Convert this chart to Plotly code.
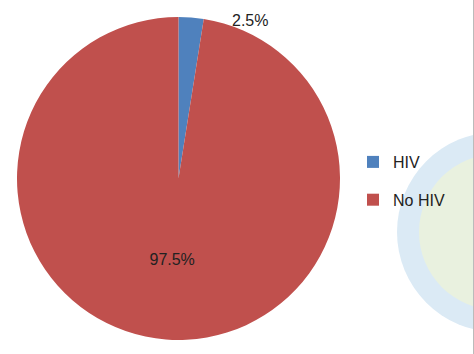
import plotly.graph_objects as go

labels = ["HIV", "No HIV"]
values = [2.5, 97.5]
colors = ["#4F81BD", "#C0504D"]

W, H = 474, 354
total = sum(values)
pct = [f"{v / total * 100:.1f}%" for v in values]

fig = go.Figure()
fig.add_trace(go.Pie(
    labels=labels, values=values, sort=False, direction="clockwise", rotation=0,
    marker=dict(colors=colors, line=dict(width=0)),
    text=["", pct[1]], textinfo="text",
    textposition="inside",
    insidetextorientation="horizontal",
    textfont=dict(family="Liberation Sans, Arial", size=16, color="#222222"),
    domain=dict(x=[17 / W, 340 / W], y=[(H - 340) / H, (H - 17) / H]),
    showlegend=False, hoverinfo="label+percent",
))

# legend entries (square swatches)
for lab, col in zip(labels, colors):
    fig.add_trace(go.Scatter(
        x=[None], y=[None], mode="markers", name=lab, legendgroup=lab,
        marker=dict(symbol="square", size=12, color=col),
    ))

# outside label for the small slice
fig.add_annotation(text=pct[0], xref="paper", yref="paper",
                   x=250 / W, y=(H - 21) / H, xanchor="center", yanchor="middle",
                   showarrow=False,
                   font=dict(family="Liberation Sans, Arial", size=16, color="#222222"))

# faded background circle at right edge (decorative)
fig.add_shape(type="circle", xref="paper", yref="paper",
              x0=(497 - 100) / W, x1=(497 + 100) / W,
              y0=(H - 332) / H, y1=(H - 132) / H,
              fillcolor="#dbeaf5", line=dict(width=0), layer="below")
fig.add_shape(type="circle", xref="paper", yref="paper",
              x0=(497 - 78) / W, x1=(497 + 78) / W,
              y0=(H - 310) / H, y1=(H - 154) / H,
              fillcolor="#e9f1df", line=dict(width=0), layer="below")
fig.add_shape(type="line", xref="paper", yref="paper",
              x0=473.5 / W, x1=473.5 / W, y0=0, y1=1,
              line=dict(color="#bbbbbb", width=1))

fig.update_layout(
    width=W, height=H, margin=dict(l=0, r=0, t=0, b=0),
    paper_bgcolor="white", plot_bgcolor="rgba(0,0,0,0)",
    xaxis=dict(visible=False), yaxis=dict(visible=False),
    legend=dict(x=353 / W, y=(H - 145) / H, xanchor="left", yanchor="top",
                font=dict(family="Liberation Sans, Arial", size=16, color="#222222"),
                bgcolor="rgba(0,0,0,0)", tracegroupgap=14, itemwidth=30),
    font=dict(family="Liberation Sans, Arial"),
)

fig.write_html("out.html")
